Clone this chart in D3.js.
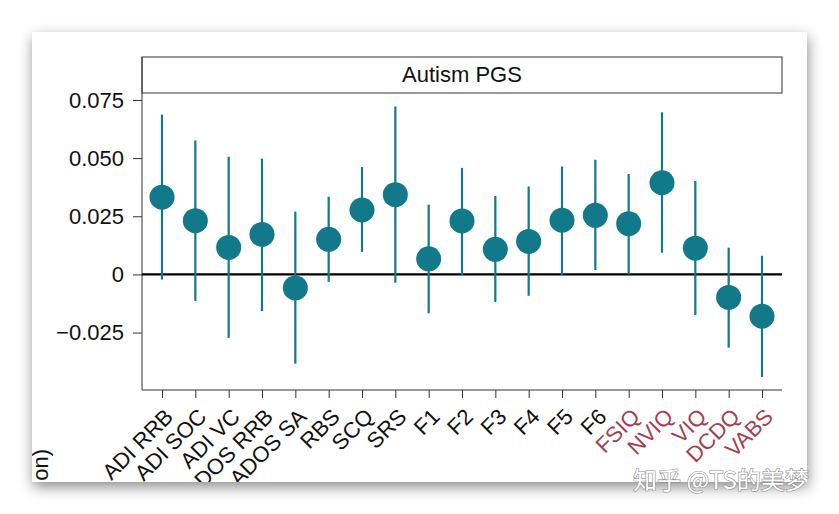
<!DOCTYPE html>
<html>
<head>
<meta charset="utf-8">
<script src="https://cdn.jsdelivr.net/npm/d3@7"></script>
<style>
  body { margin: 0; background: #fff; }
  text { font-family: "Liberation Sans", Arial, sans-serif; }
</style>
</head>
<body>
<div id="chart"></div>
<script>
// data
const measures = ["ADI RRB", "ADI SOC", "ADI VC", "ADOS RRB", "ADOS SA", "RBS", "SCQ", "SRS",
  "F1", "F2", "F3", "F4", "F5", "F6", "FSIQ", "NVIQ", "VIQ", "DCDQ", "VABS"];
const estimates = [0.0332, 0.0231, 0.0116, 0.0172, -0.0058, 0.0151, 0.0277, 0.0343,
  0.0067, 0.0230, 0.0108, 0.0142, 0.0233, 0.0254, 0.0218, 0.0394, 0.0113, -0.0099, -0.0180];
const lower = [-0.0022, -0.0114, -0.0273, -0.0158, -0.0384, -0.0032, 0.0097, -0.0036,
  -0.0167, -0.0003, -0.0119, -0.0092, -0.0003, 0.0019, 0.0000, 0.0093, -0.0175, -0.0315, -0.0441];
const upper = [0.0687, 0.0576, 0.0506, 0.0498, 0.0270, 0.0334, 0.0462, 0.0722,
  0.0300, 0.0458, 0.0337, 0.0378, 0.0464, 0.0493, 0.0432, 0.0697, 0.0402, 0.0115, 0.0080];
const cognitive = ["FSIQ", "NVIQ", "VIQ", "DCDQ", "VABS"]; // labels drawn in red
const yTicks = [-0.025, 0, 0.025, 0.050, 0.075];
const yTickLabels = ["\u22120.025", "0", "0.025", "0.050", "0.075"];
const panelTitle = "Autism PGS";

const W = 839, H = 514;
const card = { x: 32, y: 32, w: 775, h: 450 };
const plot = { left: 142, right: 782, top: 93, bottom: 390, stripTop: 57 };

const teal = "#11798a";
const red = "#a5404c";
const fontSize = "22px";

const svg = d3.select("#chart").append("svg")
  .attr("width", W)
  .attr("height", H);

const defs = svg.append("defs");
const shadow = defs.append("filter")
  .attr("id", "shadow")
  .attr("x", "-10%").attr("y", "-10%")
  .attr("width", "120%").attr("height", "125%");
shadow.append("feDropShadow")
  .attr("dx", 1).attr("dy", 5)
  .attr("stdDeviation", 7)
  .attr("flood-color", "#000")
  .attr("flood-opacity", 0.45);

defs.append("clipPath").attr("id", "cardClip")
  .append("rect")
  .attr("x", card.x).attr("y", card.y)
  .attr("width", card.w).attr("height", card.h);

// card with shadow
svg.append("rect")
  .attr("x", card.x).attr("y", card.y)
  .attr("width", card.w).attr("height", card.h)
  .attr("fill", "#fff")
  .attr("filter", "url(#shadow)");

const g = svg.append("g").attr("clip-path", "url(#cardClip)");

// scales
const x = d3.scalePoint()
  .domain(measures)
  .range([plot.left, plot.right])
  .padding(0.6);

const y = d3.scaleLinear()
  .domain([-0.0497, 0.078])
  .range([plot.bottom, plot.top]);

// panel strip
g.append("rect")
  .attr("x", plot.left).attr("y", plot.stripTop)
  .attr("width", plot.right - plot.left)
  .attr("height", plot.top - plot.stripTop)
  .attr("fill", "#fff")
  .attr("stroke", "#333")
  .attr("stroke-width", 1);

g.append("text")
  .attr("x", (plot.left + plot.right) / 2)
  .attr("y", 82)
  .attr("text-anchor", "middle")
  .style("font-size", fontSize)
  .attr("fill", "#111")
  .text(panelTitle);

// y axis
const yAxis = g.append("g")
  .attr("transform", `translate(${plot.left},0)`)
  .call(d3.axisLeft(y)
    .tickValues(yTicks)
    .tickFormat((d, i) => yTickLabels[i])
    .tickSize(9)
    .tickPadding(9));
yAxis.select(".domain")
  .attr("d", `M0,${plot.stripTop}V${plot.bottom}`)
  .attr("stroke", "#333");
yAxis.selectAll(".tick line").attr("stroke", "#333");
yAxis.selectAll(".tick text")
  .style("font-size", fontSize)
  .style("font-family", "'Liberation Sans', Arial, sans-serif")
  .attr("fill", "#111");

// x axis
const xAxis = g.append("g")
  .attr("transform", `translate(0,${plot.bottom})`)
  .call(d3.axisBottom(x).tickSize(8).tickSizeOuter(0));
xAxis.select(".domain")
  .attr("d", `M${plot.left},0H${plot.right}`)
  .attr("stroke", "#333");
xAxis.selectAll(".tick line").attr("stroke", "#333");
xAxis.selectAll(".tick text")
  .attr("text-anchor", "end")
  .attr("y", 0)
  .attr("dy", 0)
  .attr("transform", "translate(12,28) rotate(-45)")
  .style("font-size", fontSize)
  .style("font-family", "'Liberation Sans', Arial, sans-serif")
  .attr("fill", d => cognitive.includes(d) ? red : "#111");

// zero line
g.append("line")
  .attr("x1", plot.left).attr("x2", plot.right)
  .attr("y1", y(0)).attr("y2", y(0))
  .attr("stroke", "#000")
  .attr("stroke-width", 2.2);

// error bars
g.selectAll("line.ci")
  .data(measures)
  .enter()
  .append("line")
  .attr("class", "ci")
  .attr("x1", d => x(d)).attr("x2", d => x(d))
  .attr("y1", (d, i) => y(lower[i]))
  .attr("y2", (d, i) => y(upper[i]))
  .attr("stroke", teal)
  .attr("stroke-width", 2.2);

// points
g.selectAll("circle.est")
  .data(measures)
  .enter()
  .append("circle")
  .attr("class", "est")
  .attr("cx", d => x(d))
  .attr("cy", (d, i) => y(estimates[i]))
  .attr("r", 12.5)
  .attr("fill", teal);

// cut-off axis title at the left edge
g.append("text")
  .attr("transform", "translate(48,449) rotate(-90)")
  .attr("text-anchor", "end")
  .style("font-size", fontSize)
  .attr("fill", "#111")
  .text("on)");

// watermark
svg.append("text")
  .attr("x", 633)
  .attr("y", 489)
  .style("font-size", "24px")
  .style("font-family", "'Noto Sans CJK SC', sans-serif")
  .attr("fill", "#fff")
  .attr("stroke", "#8a8a8a")
  .attr("stroke-width", 1.2)
  .attr("paint-order", "stroke")
  .text("知乎  @TS的美梦");
</script>
</body>
</html>
